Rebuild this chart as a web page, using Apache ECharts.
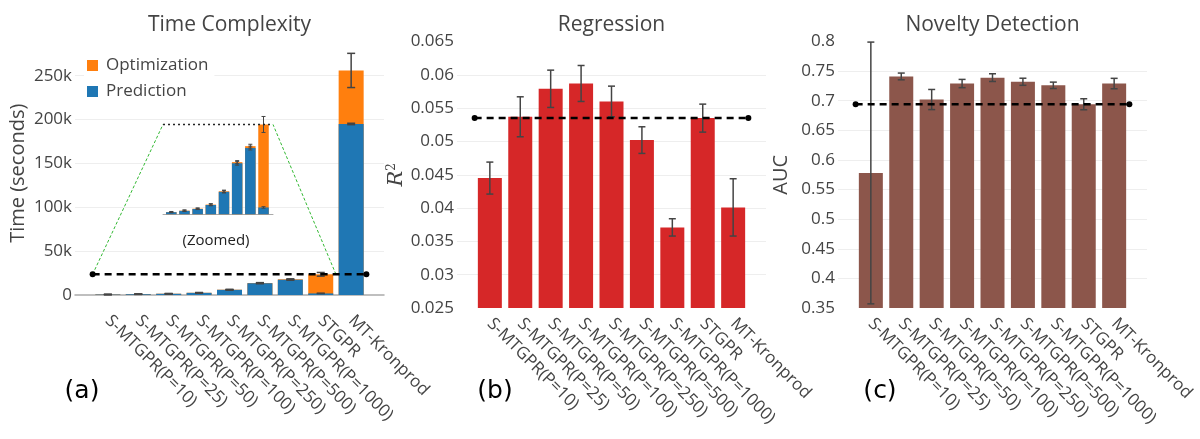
<!DOCTYPE html>
<html lang="en">
<head>
<meta charset="UTF-8">
<title>S-MTGPR comparison</title>
<style>
  html, body { margin: 0; padding: 0; background: #fff; }
  #main { width: 1200px; height: 439px; }
</style>
</head>
<body>
<div id="main"></div>
<script src="https://cdn.jsdelivr.net/npm/echarts@6/dist/echarts.min.js"></script>
<script>
// ---- data ----
var categories = ['S-MTGPR(P=10)', 'S-MTGPR(P=25)', 'S-MTGPR(P=50)', 'S-MTGPR(P=100)',
    'S-MTGPR(P=250)', 'S-MTGPR(P=500)', 'S-MTGPR(P=1000)', 'STGPR', 'MT-Kronprod'];
var predTime = [550, 900, 1400, 2450, 5900, 13400, 17400, 1800, 195000];
var optTime = [40, 60, 80, 100, 150, 300, 500, 21800, 61000];
var predTimeErr = [100, 150, 150, 200, 300, 500, 500, 200, 800];
var optTimeErr = [150, 200, 200, 250, 300, 400, 500, 2100, 19500];
var r2 = [0.0445, 0.0537, 0.0579, 0.0587, 0.0560, 0.0502, 0.0371, 0.0535, 0.0401];
var r2Err = [0.0024, 0.0030, 0.0028, 0.0027, 0.0023, 0.0020, 0.0013, 0.0021, 0.0043];
var auc = [0.578, 0.741, 0.702, 0.729, 0.739, 0.732, 0.726, 0.694, 0.729];
var aucErr = [0.221, 0.0057, 0.017, 0.007, 0.0065, 0.006, 0.0054, 0.0093, 0.0088];

var FONT = "'Open Sans', sans-serif";
var GREY = '#444';

var chart = echarts.init(document.getElementById('main'));

var xMin = -1.08, xMax = 9.08;
var insetXMin = -0.63, insetXMax = 7.72;
var nInset = categories.length - 1;   // inset leaves out MT-Kronprod
var tickIdx = categories.map(function (c, i) { return i; });
var baseIdx = categories.indexOf('STGPR');
// optimization sits on top of prediction: draw the total in orange, prediction over it
var totalTime = predTime.map(function (v, i) { return v + optTime[i]; });
var timeBase = totalTime[baseIdx];

function pairs(vals) {
    return vals.map(function (v, i) { return [i, v]; });
}
function errRows(tops, errs) {
    return tops.map(function (v, i) { return [i, v - errs[i], v + errs[i]]; });
}

function errorBars(ai, rows, capHalf, width) {
    return {
        type: 'custom', xAxisIndex: ai, yAxisIndex: ai, data: rows, z: 5, silent: true,
        encode: { x: 0, y: [1, 2] },
        renderItem: function (params, api) {
            var x = api.value(0);
            var lo = api.coord([x, api.value(1)]);
            var hi = api.coord([x, api.value(2)]);
            var st = { stroke: GREY, lineWidth: width };
            return {
                type: 'group', children: [
                    { type: 'line', shape: { x1: lo[0], y1: lo[1], x2: hi[0], y2: hi[1] }, style: st },
                    { type: 'line', shape: { x1: hi[0] - capHalf, y1: hi[1], x2: hi[0] + capHalf, y2: hi[1] }, style: st },
                    { type: 'line', shape: { x1: lo[0] - capHalf, y1: lo[1], x2: lo[0] + capHalf, y2: lo[1] }, style: st }
                ]
            };
        }
    };
}

function refLine(ai, x0, x1, y, lineStyle, symbolSize) {
    return {
        type: 'line', xAxisIndex: ai, yAxisIndex: ai, z: 6, silent: true,
        data: [[x0, y], [x1, y]],
        symbol: symbolSize ? 'circle' : 'none', symbolSize: symbolSize,
        itemStyle: { color: '#000' },
        lineStyle: lineStyle
    };
}

function timeBars(ai, width, pred, total) {
    return [
        { name: 'Optimization', type: 'bar', xAxisIndex: ai, yAxisIndex: ai, z: 2,
          barWidth: width, barGap: '-100%', itemStyle: { color: '#ff7f0e' }, data: pairs(total) },
        { name: 'Prediction', type: 'bar', xAxisIndex: ai, yAxisIndex: ai, z: 3,
          barWidth: width, barGap: '-100%', itemStyle: { color: '#1f77b4' }, data: pairs(pred) }
    ];
}

var dashed = { color: '#000', width: 2.5, type: [7, 5] };

function catAxis(gi, showLine, margin) {
    return {
        type: 'value', gridIndex: gi, min: xMin, max: xMax,
        splitLine: { show: false }, axisTick: { show: false },
        axisLine: { show: showLine, onZero: false, lineStyle: { color: '#aaa', width: 1.5 } },
        axisLabel: {
            customValues: tickIdx, rotate: -45, margin: margin,
            fontFamily: FONT, fontSize: 17, color: GREY,
            formatter: function (v) { return categories[Math.round(v)]; }
        }
    };
}

function valAxis(gi, min, max, interval, fmt, name, nameGap, nameStyle) {
    return {
        type: 'value', gridIndex: gi, min: min, max: max, interval: interval,
        name: name, nameLocation: 'middle', nameGap: nameGap,
        nameTextStyle: nameStyle,
        axisLine: { show: false }, axisTick: { show: false },
        axisLabel: { fontFamily: FONT, fontSize: 17, color: GREY, margin: 3,
            showMaxLabel: max % interval < 1e-9 || Math.abs(max % interval - interval) < 1e-9, formatter: fmt },
        splitLine: { showMinLine: false, showMaxLine: false, lineStyle: { color: '#eee', width: 1 } }
    };
}

var option = {
    animation: false,
    textStyle: { fontFamily: FONT },
    grid: [
        { left: 75, top: 41.5, width: 309, height: 253.5 },
        { left: 457, top: 41.5, width: 309, height: 266.5 },
        { left: 838, top: 41.5, width: 309, height: 266.5 },
        { left: 163, top: 110, width: 110, height: 104.3 }
    ],
    legend: {
        data: ['Optimization', 'Prediction'], orient: 'vertical',
        left: 84, top: 54, itemWidth: 11, itemHeight: 11, itemGap: 9,
        backgroundColor: '#fff', padding: [3, 6, 3, 3], icon: 'rect',
        textStyle: { fontFamily: FONT, fontSize: 17, color: GREY, lineHeight: 17, padding: [0, 0, 0, 3] }
    },
    xAxis: [
        catAxis(0, true, 23),
        catAxis(1, false, 13),
        catAxis(2, false, 13),
        {
            type: 'value', gridIndex: 3, min: insetXMin, max: insetXMax,
            splitLine: { show: false }, axisTick: { show: false }, axisLabel: { show: false },
            axisLine: { show: true, onZero: false, lineStyle: { color: '#aaa', width: 1 } }
        }
    ],
    yAxis: [
        valAxis(0, 0, 289000, 50000, function (v) { return v === 0 ? '0' : (v / 1000) + 'k'; },
            'Time (seconds)', 47, { fontFamily: FONT, fontSize: 20, color: GREY, padding: [0, 10, 0, 0] }),
        valAxis(1, 0.025, 0.065, 0.005, function (v) { return +v.toFixed(3) + ''; },
            '{r|R}{s|2}', 49, { rich: {
                r: { fontFamily: "'DejaVu Serif', serif", fontStyle: 'italic', fontSize: 21, color: GREY },
                s: { fontFamily: "'DejaVu Serif', serif", fontSize: 12, color: GREY, verticalAlign: 'top', padding: [0, 0, 8, 0] }
            } }),
        valAxis(2, 0.35, 0.8, 0.05, function (v) { return +v.toFixed(2) + ''; },
            'AUC', 47, { fontFamily: FONT, fontSize: 20, color: GREY }),
        { type: 'value', gridIndex: 3, min: 0, max: 27400, show: false }
    ],
    series: [].concat(
        // (a) time complexity
        timeBars(0, 25, predTime, totalTime),
        [
            errorBars(0, errRows(predTime, predTimeErr), 4, 1.5),
            errorBars(0, errRows(totalTime, optTimeErr), 4, 1.5),
            refLine(0, -0.5, categories.length - 0.5, timeBase, dashed, 6)
        ],
        // (a) inset, zoomed view without MT-Kronprod
        timeBars(3, 10.5, predTime.slice(0, nInset), totalTime.slice(0, nInset)),
        [
            errorBars(3, errRows(predTime.slice(0, nInset), predTimeErr), 2, 1),
            errorBars(3, errRows(totalTime.slice(0, nInset), optTimeErr), 2, 1),
            refLine(3, insetXMin, insetXMax, timeBase, { color: '#222', width: 1.5, type: [2, 3] }, 0),

            // (b) regression
            { type: 'bar', xAxisIndex: 1, yAxisIndex: 1, barWidth: 24,
              itemStyle: { color: '#d62728' }, data: pairs(r2) },
            errorBars(1, errRows(r2, r2Err), 3.5, 1.5),
            refLine(1, -0.5, categories.length - 0.5, r2[baseIdx], dashed, 6),

            // (c) novelty detection
            { type: 'bar', xAxisIndex: 2, yAxisIndex: 2, barWidth: 24,
              itemStyle: { color: '#8c564b' }, data: pairs(auc) },
            errorBars(2, errRows(auc, aucErr), 3.5, 1.5),
            refLine(2, -0.5, categories.length - 0.5, auc[baseIdx], dashed, 6)
        ]
    )
};
chart.setOption(option);

// titles, panel tags and the zoom connectors
var grids = option.grid;
var titles = ['Time Complexity', 'Regression', 'Novelty Detection'];
var tags = ['(a)', '(b)', '(c)'];
var graphics = [];
titles.forEach(function (t, i) {
    graphics.push({ type: 'text', x: grids[i].left + grids[i].width / 2, y: 25,
        style: { text: t, fontFamily: FONT, fontSize: 21, fill: GREY, align: 'center', verticalAlign: 'middle' } });
});
var tagX = [82, 495, 880];
tags.forEach(function (t, i) {
    graphics.push({ type: 'text', x: tagX[i], y: 391,
        style: { text: t, fontFamily: "'DejaVu Sans', sans-serif", fontSize: 25, fill: '#000', align: 'center', verticalAlign: 'middle' } });
});
graphics.push({ type: 'text', x: grids[3].left + grids[3].width / 2 - 2, y: grids[3].top + grids[3].height + 26,
    style: { text: '(Zoomed)', fontFamily: FONT, fontSize: 15, fill: '#222', align: 'center', verticalAlign: 'middle' } });

var mainL = chart.convertToPixel({ gridIndex: 0 }, [-0.5, timeBase]);
var mainR = chart.convertToPixel({ gridIndex: 0 }, [baseIdx + 0.5, timeBase]);
var insL = chart.convertToPixel({ gridIndex: 3 }, [insetXMin, timeBase]);
var insR = chart.convertToPixel({ gridIndex: 3 }, [insetXMax, timeBase]);
[[mainL, insL], [mainR, insR]].forEach(function (p) {
    graphics.push({ type: 'line', z: 1,
        shape: { x1: p[0][0], y1: p[0][1], x2: p[1][0], y2: p[1][1] },
        style: { stroke: '#33b833', lineWidth: 1, lineDash: [3, 2] } });
});
chart.setOption({ graphic: graphics });
</script>
</body>
</html>
